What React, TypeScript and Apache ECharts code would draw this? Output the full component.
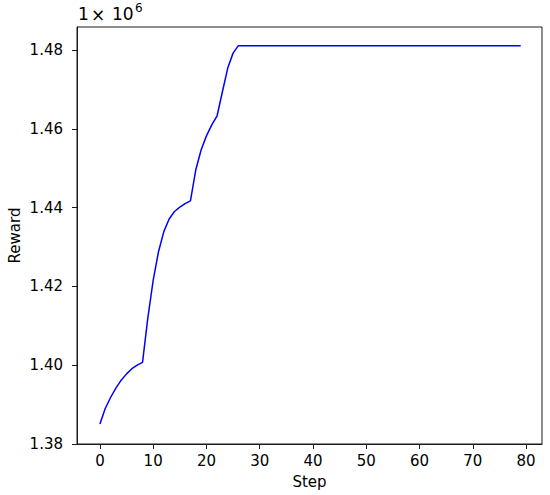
import React, { useEffect, useRef } from "react";
import * as echarts from "echarts";

// Reward per step (raw values, the axis shows them in units of 1e6)
const rewards: number[] = [
  1385100, 1389000, 1391800, 1394200, 1396200, 1397800, 1399100, 1400000, 1400700,
  1412000, 1421500, 1428800, 1433900, 1437100,
  1439000, 1440100, 1441000, 1441700,
  1449600, 1454600, 1458200, 1461000, 1463300,
  1469400, 1475400, 1479200, 1481100,
  1481100, 1481100, 1481100, 1481100, 1481100, 1481100, 1481100, 1481100, 1481100, 1481100,
  1481100, 1481100, 1481100, 1481100, 1481100, 1481100, 1481100, 1481100, 1481100, 1481100,
  1481100, 1481100, 1481100, 1481100, 1481100, 1481100, 1481100, 1481100, 1481100, 1481100,
  1481100, 1481100, 1481100, 1481100, 1481100, 1481100, 1481100, 1481100, 1481100, 1481100,
  1481100, 1481100, 1481100, 1481100, 1481100, 1481100, 1481100, 1481100, 1481100, 1481100,
  1481100, 1481100, 1481100,
];
const steps: number[] = rewards.map((_, i) => i);
const xTicks: number[] = [0, 10, 20, 30, 40, 50, 60, 70, 80];
const yTicks: number[] = [1380000, 1400000, 1420000, 1440000, 1460000, 1480000];

const FONT = "DejaVu Sans";
const INK = "#000000";
const FS = 15;

export default function App() {
  const ref = useRef<HTMLDivElement>(null);
  useEffect(() => {
    if (!ref.current) return;
    const chart = echarts.init(ref.current, null, { renderer: "svg" });
    const axisLine = { show: true, onZero: false, lineStyle: { color: "#1a1a1a", width: 1 } };
    chart.setOption({
      animation: false,
      backgroundColor: "#ffffff",
      grid: {
        left: 77,
        right: 8,
        top: 27,
        bottom: 51,
        containLabel: false,
        outerBoundsMode: "none",
        show: true,
        borderColor: "#1a1a1a",
        borderWidth: 1,
        backgroundColor: "transparent",
      },
      xAxis: {
        type: "value",
        min: -4.3,
        max: 83,
        name: "Step",
        nameLocation: "middle",
        nameGap: 30,
        nameMoveOverlap: false,
        nameTextStyle: { fontFamily: FONT, fontSize: FS, color: INK },
        axisLine,
        axisTick: { show: true, length: 5, lineStyle: { color: "#1a1a1a" }, customValues: xTicks },
        axisLabel: {
          fontFamily: FONT,
          fontSize: FS,
          color: INK,
          margin: 9,
          customValues: xTicks,
          formatter: (v: number) => String(v),
        },
        splitLine: { show: false },
      },
      yAxis: {
        type: "value",
        min: 1380000,
        max: 1485830,
        name: "Reward",
        nameLocation: "middle",
        nameGap: 55,
        nameMoveOverlap: false,
        nameTextStyle: { fontFamily: FONT, fontSize: FS, color: INK },
        axisLine,
        axisTick: { show: true, length: 5, lineStyle: { color: "#1a1a1a" }, customValues: yTicks },
        axisLabel: {
          fontFamily: FONT,
          fontSize: FS,
          color: INK,
          margin: 14,
          customValues: yTicks,
          formatter: (v: number) => (v / 1e6).toFixed(2),
        },
        splitLine: { show: false },
      },
      graphic: [
        { type: "text", x: 78, y: 14, style: { text: "1", fontFamily: FONT, fontSize: 17, fill: INK, textVerticalAlign: "middle" } },
        { type: "text", x: 91, y: 14.5, style: { text: "×", fontFamily: FONT, fontSize: 17, fill: INK, textVerticalAlign: "middle" } },
        { type: "text", x: 112, y: 14, style: { text: "10", fontFamily: FONT, fontSize: 17, fill: INK, textVerticalAlign: "middle" } },
        { type: "text", x: 135, y: 7.5, style: { text: "6", fontFamily: FONT, fontSize: 12, fill: INK, textVerticalAlign: "middle" } },
      ],
      series: [
        {
          type: "line",
          data: steps.map((s, i) => [s, rewards[i]]),
          showSymbol: false,
          symbol: "none",
          lineStyle: { color: "#0000ff", width: 1.5 },
          clip: true,
        },
      ],
    });
    return () => chart.dispose();
  }, []);
  return (
    <div
      ref={ref}
      style={{ position: "fixed", left: 0, top: 0, width: 550, height: 495, background: "#fff" }}
    />
  );
}
